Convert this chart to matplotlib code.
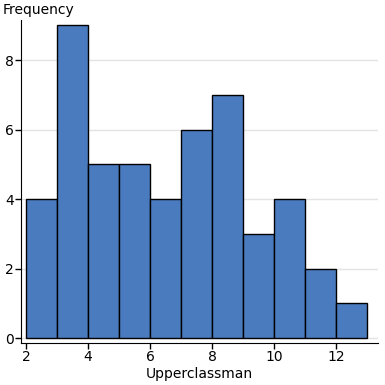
import matplotlib.pyplot as plt

bin_edges = [2, 3, 4, 5, 6, 7, 8, 9, 10, 11, 12, 13]
counts = [4, 9, 5, 5, 4, 6, 7, 3, 4, 2, 1]

plt.rcParams['font.family'] = 'DejaVu Sans'
fig = plt.figure(figsize=(3.85, 3.85), dpi=100)
ax = fig.add_axes([0.0545, 0.109, 0.9275, 0.839])

ax.hist(bin_edges[:-1], bins=bin_edges, weights=counts,
        color='#4a7bbf', edgecolor='black', linewidth=1, zorder=3)

ax.set_xlim(1.84, 13.35)
ax.set_ylim(-0.14, 9.15)
ax.set_xticks([2, 4, 6, 8, 10, 12])
ax.set_yticks([0, 2, 4, 6, 8])
ax.grid(axis='y', color='#e3e3e3', linewidth=1, zorder=0)

for s in ['top', 'right']:
    ax.spines[s].set_visible(False)
ax.tick_params(labelsize=10, length=4, width=1, pad=1)

ax.set_xlabel("Upperclassman", fontsize=10, labelpad=2)
fig.text(0.008, 0.975, "Frequency", fontsize=10, va='center', ha='left')

fig.savefig("out.png", dpi=100)
